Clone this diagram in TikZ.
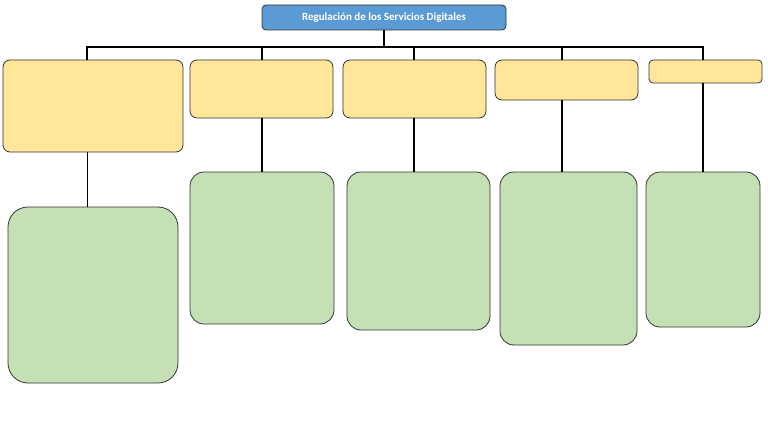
\documentclass[tikz,border=0pt]{standalone}
\usepackage{fontspec}
\setmainfont{Carlito}
\begin{document}
\begin{tikzpicture}[x=1pt,y=-1pt,
  ybox/.style={draw=black!80,fill=yellow!45!orange!30!white,fill=ybcol,rounded corners=7pt,line width=0.8pt},
  gbox/.style={draw=black!80,fill=gbcol,rounded corners=14pt,line width=0.8pt},
  conn/.style={line width=1.2pt}]
\definecolor{ybcol}{HTML}{FFE699}
\definecolor{gbcol}{HTML}{C5E0B4}
\definecolor{tbcol}{HTML}{5B9BD5}
\useasboundingbox (0,0) rectangle (768,433);
\node[draw=black!80,fill=tbcol,rounded corners=4pt,line width=0.8pt,minimum width=244pt,minimum height=25pt,text=white,font=\bfseries\fontsize{11}{13}\selectfont] (t) at (384,17.5) {Regulación de los Servicios Digitales};
\path[ybox] (3,60) rectangle (183,152); \coordinate (y1t) at (87,60); \coordinate (y1b) at (87,152);
\path[ybox] (190,60) rectangle (333,118); \coordinate (y2t) at (262,60); \coordinate (y2b) at (262,118);
\path[ybox] (343,60) rectangle (486,118); \coordinate (y3t) at (414,60); \coordinate (y3b) at (414,118);
\path[ybox] (495,60) rectangle (638,100); \coordinate (y4t) at (562,60); \coordinate (y4b) at (562,100);
\path[ybox,rounded corners=4pt] (649,60) rectangle (762,83); \coordinate (y5t) at (703,60); \coordinate (y5b) at (703,83);
\path[gbox,rounded corners=20pt] (8,207) rectangle (178,383); \coordinate (g1) at (87,207);
\path[gbox] (190,172) rectangle (334,324); \coordinate (g2) at (262,172);
\path[gbox] (347,172) rectangle (490,330); \coordinate (g3) at (414,172);
\path[gbox] (500,172) rectangle (637,345); \coordinate (g4) at (562,172);
\path[gbox] (646,172) rectangle (760,327); \coordinate (g5) at (703,172);
\coordinate (h) at (384,47);
\draw[conn] (t.south) -- (h);
\draw[conn] (y1t) -- (87,47) -- (703,47) -- (y5t);
\foreach \n/\x in {2/262,3/414,4/562}{\draw[conn] (\x,47) -- (y\n t);}
\draw[line width=0.6pt] (y1b) -- (g1);
\draw[conn] (y2b) -- (g2);
\draw[conn] (y3b) -- (g3);
\draw[conn] (y4b) -- (g4);
\draw[conn] (y5b) -- (g5);
\end{tikzpicture}
\end{document}
